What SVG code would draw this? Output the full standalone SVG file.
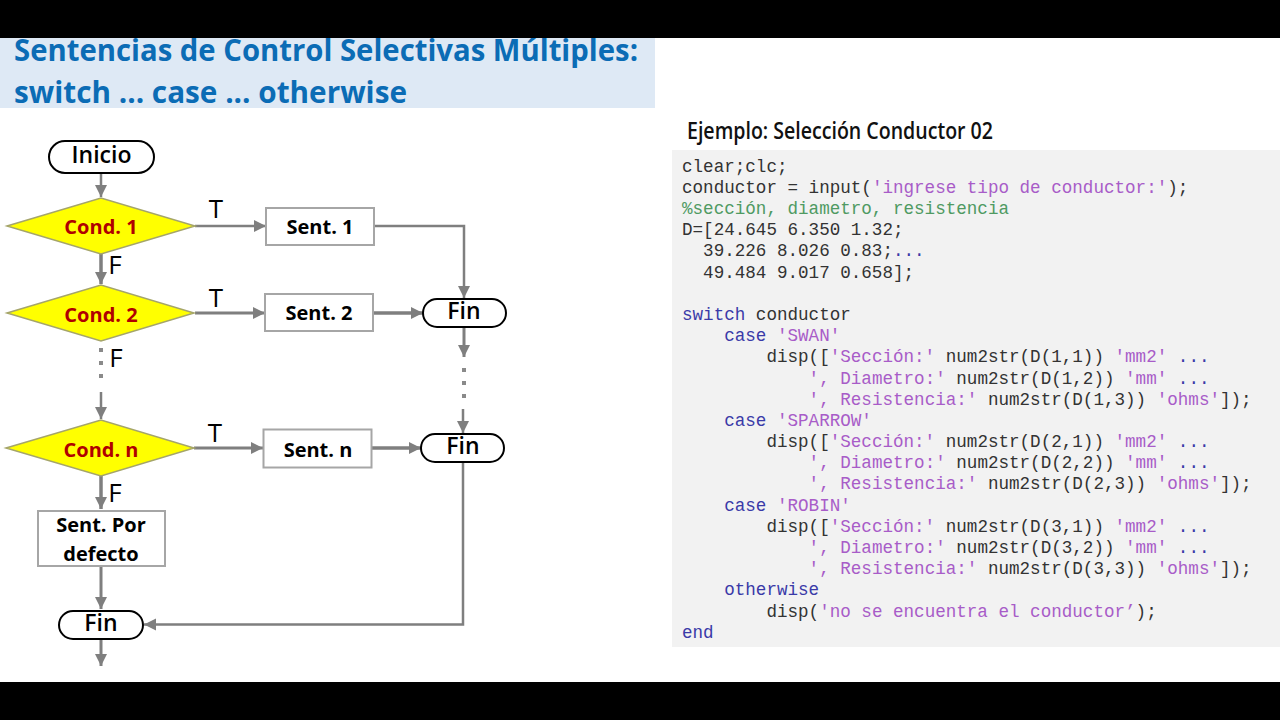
<svg xmlns="http://www.w3.org/2000/svg" width="1280" height="720" viewBox="0 0 1280 720">
<defs>
<marker id="ah" markerUnits="userSpaceOnUse" markerWidth="13" markerHeight="13" refX="12" refY="6.500" orient="auto"><path d="M0,0.500 L12,6.500 L0,12.500 Z" fill="#7f7f7f"/></marker>
</defs>
<style>
.bar{fill:#000}
.title{font-family:"Open Sans","Liberation Sans",sans-serif;font-weight:700;font-size:30.500px;fill:#0b6cb5}
.pill{fill:#fff;stroke:#000;stroke-width:2}
.dia{fill:#ffff00;stroke:#a5a56a;stroke-width:1.500}
.box{fill:#fff;stroke:#a6a6a6;stroke-width:2}
.cond{font-family:"Open Sans","Liberation Sans",sans-serif;font-weight:700;font-size:20px;fill:#b00000;text-anchor:middle}
.sent{font-family:"Open Sans","Liberation Sans",sans-serif;font-weight:700;font-size:20px;fill:#000;text-anchor:middle}
.term{font-family:"Open Sans","Liberation Sans",sans-serif;font-weight:600;font-size:23px;fill:#000;text-anchor:middle}
.tf{font-family:"Open Sans","Liberation Sans",sans-serif;font-size:26px;fill:#000;text-anchor:middle}
.conn{fill:none;stroke:#7f7f7f;stroke-width:2.500}
.dots{fill:none;stroke:#8a8a8a;stroke-width:4;stroke-dasharray:4 9}
.head{font-family:"Open Sans","Liberation Sans",sans-serif;font-weight:600;font-size:23px;fill:#111}
.code{font-family:"Liberation Mono","Courier New",monospace;font-size:17.590px;fill:#333;white-space:pre}
.k{fill:#3a3aa8}.s{fill:#a85cc8}.c{fill:#4f9a62}
</style>
<rect width="1280" height="720" fill="#fff"/>
<g id="title">
<rect x="0" y="38" width="655" height="70" fill="#dee9f5"/>
<text class="title" x="14" y="61" textLength="624" lengthAdjust="spacingAndGlyphs">Sentencias de Control Selectivas Múltiples:</text>
<text class="title" x="14" y="103" textLength="393" lengthAdjust="spacingAndGlyphs">switch ... case ... otherwise</text>
</g>
<rect class="bar" x="0" y="0" width="1280" height="38"/>
<rect class="bar" x="0" y="682" width="1280" height="38"/>
<g id="connectors">
<path class="conn" marker-end="url(#ah)" d="M101,173 V197"/>
<path class="conn" marker-end="url(#ah)" d="M195,226 H266"/>
<path class="conn" marker-end="url(#ah)" d="M374,226 H464 V298"/>
<path class="conn" marker-end="url(#ah)" d="M101,254 V284" style="stroke-width:3.500"/>
<path class="conn" marker-end="url(#ah)" d="M195,313 H265" style="stroke-width:3"/>
<path class="conn" marker-end="url(#ah)" d="M373,313 H423" style="stroke-width:3.500"/>
<path class="conn" marker-end="url(#ah)" d="M464,327 V357" style="stroke-width:3"/>
<path class="dots" d="M464,368 V398"/>
<path class="conn" marker-end="url(#ah)" d="M463,409 V433"/>
<path class="dots" d="M101,348 V381"/>
<path class="conn" marker-end="url(#ah)" d="M101,392 V419"/>
<path class="conn" marker-end="url(#ah)" d="M194,448 H263" style="stroke-width:3"/>
<path class="conn" marker-end="url(#ah)" d="M372,448 H421" style="stroke-width:3.500"/>
<path class="conn" marker-end="url(#ah)" d="M101,476 V509" style="stroke-width:3.500"/>
<path class="conn" marker-end="url(#ah)" d="M101,566 V609" style="stroke-width:3"/>
<path class="conn" marker-end="url(#ah)" d="M463,462 V624.500 H144"/>
<path class="conn" marker-end="url(#ah)" d="M101,639 V666" style="stroke-width:3"/>
</g>
<g id="inicio"><rect class="pill" x="49" y="141" width="105" height="32" rx="16"/><text class="term" x="101.500" y="163">Inicio</text></g>
<g id="cond1"><polygon class="dia" points="7,226 101,198 195,226 101,254"/><text class="cond" x="101" y="234">Cond. 1</text></g>
<g id="sent1"><rect class="box" x="266" y="208" width="108" height="37"/><text class="sent" x="320" y="234">Sent. 1</text></g>
<g id="cond2"><polygon class="dia" points="7,313 101,285 194,313 101,341"/><text class="cond" x="101" y="322">Cond. 2</text></g>
<g id="sent2"><rect class="box" x="265" y="294" width="108" height="37"/><text class="sent" x="319" y="320">Sent. 2</text></g>
<g id="fin1"><rect class="pill" x="423" y="299" width="83" height="28" rx="14"/><text class="term" x="464" y="319">Fin</text></g>
<g id="condn"><polygon class="dia" points="6,448 101,420 194,448 101,476"/><text class="cond" x="101" y="457">Cond. n</text></g>
<g id="sentn"><rect class="box" x="263.500" y="429.500" width="108" height="38"/><text class="sent" x="318" y="457">Sent. n</text></g>
<g id="fin2"><rect class="pill" x="421" y="434" width="83" height="28" rx="14"/><text class="term" x="463" y="454">Fin</text></g>
<g id="defecto"><rect class="box" x="38" y="511" width="127" height="55"/><text class="sent" x="101" y="532">Sent. Por</text><text class="sent" x="101" y="561">defecto</text></g>
<g id="fin3"><rect class="pill" x="59" y="611" width="84" height="28" rx="14"/><text class="term" x="101" y="631">Fin</text></g>
<g id="labels">
<text class="tf" x="216" y="218">T</text><text class="tf" x="115" y="274">F</text>
<text class="tf" x="216" y="307">T</text><text class="tf" x="116" y="367">F</text>
<text class="tf" x="215" y="442">T</text><text class="tf" x="115" y="502">F</text>
</g>
<g id="example">
<text class="head" x="687" y="139" textLength="306" lengthAdjust="spacingAndGlyphs">Ejemplo: Selección Conductor 02</text>
<rect x="672" y="150" width="608" height="497" fill="#f2f2f2"/>
<text class="code" x="682" y="171.700">clear;clc;</text>
<text class="code" x="682" y="192.700">conductor = input(<tspan class="s">'ingrese tipo de conductor:'</tspan>);</text>
<text class="code c" x="682" y="214">%sección, diametro, resistencia</text>
<text class="code" x="682" y="235.200">D=[24.645 6.350 1.32;</text>
<text class="code" x="682" y="256.400">  39.226 8.026 0.83;<tspan class="k">...</tspan></text>
<text class="code" x="682" y="277.600">  49.484 9.017 0.658];</text>
<text class="code" x="682" y="320"><tspan class="k">switch</tspan> conductor</text>
<text class="code" x="682" y="341.200">    <tspan class="k">case</tspan> <tspan class="s">'SWAN'</tspan></text>
<text class="code" x="682" y="362.300">        disp([<tspan class="s">'Sección:'</tspan> num2str(D(1,1)) <tspan class="s">'mm2'</tspan> <tspan class="k">...</tspan></text>
<text class="code" x="682" y="383.500">            <tspan class="s">', Diametro:'</tspan> num2str(D(1,2)) <tspan class="s">'mm'</tspan> <tspan class="k">...</tspan></text>
<text class="code" x="682" y="404.700">            <tspan class="s">', Resistencia:'</tspan> num2str(D(1,3)) <tspan class="s">'ohms'</tspan>]);</text>
<text class="code" x="682" y="425.900">    <tspan class="k">case</tspan> <tspan class="s">'SPARROW'</tspan></text>
<text class="code" x="682" y="447.100">        disp([<tspan class="s">'Sección:'</tspan> num2str(D(2,1)) <tspan class="s">'mm2'</tspan> <tspan class="k">...</tspan></text>
<text class="code" x="682" y="468.200">            <tspan class="s">', Diametro:'</tspan> num2str(D(2,2)) <tspan class="s">'mm'</tspan> <tspan class="k">...</tspan></text>
<text class="code" x="682" y="489.400">            <tspan class="s">', Resistencia:'</tspan> num2str(D(2,3)) <tspan class="s">'ohms'</tspan>]);</text>
<text class="code" x="682" y="510.600">    <tspan class="k">case</tspan> <tspan class="s">'ROBIN'</tspan></text>
<text class="code" x="682" y="531.800">        disp([<tspan class="s">'Sección:'</tspan> num2str(D(3,1)) <tspan class="s">'mm2'</tspan> <tspan class="k">...</tspan></text>
<text class="code" x="682" y="553">            <tspan class="s">', Diametro:'</tspan> num2str(D(3,2)) <tspan class="s">'mm'</tspan> <tspan class="k">...</tspan></text>
<text class="code" x="682" y="574.100">            <tspan class="s">', Resistencia:'</tspan> num2str(D(3,3)) <tspan class="s">'ohms'</tspan>]);</text>
<text class="code" x="682" y="595.300">    <tspan class="k">otherwise</tspan></text>
<text class="code" x="682" y="616.500">        disp(<tspan class="s">'no se encuentra el conductor’</tspan>);</text>
<text class="code k" x="682" y="637.700">end</text>
</g>
</svg>
